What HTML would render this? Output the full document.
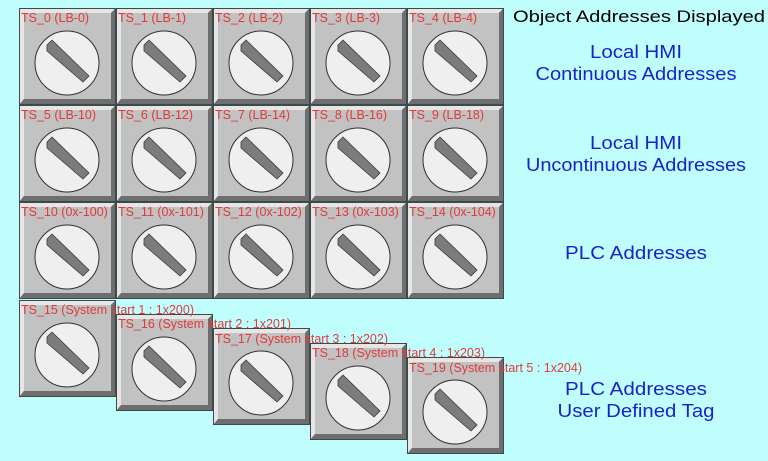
<!DOCTYPE html>
<html><head><meta charset="utf-8"><style>
html,body{margin:0;padding:0;background:#c0fefe;}
svg{display:block}
.l{font-family:"Liberation Sans",sans-serif;font-size:12.5px;fill:#e03a3a}
.b{font-family:"Liberation Sans",sans-serif;font-size:18px;fill:#1a22c8;text-anchor:middle}
</style></head><body>
<svg width="768" height="461" viewBox="0 0 768 461" xmlns="http://www.w3.org/2000/svg">
<rect width="768" height="461" fill="#c0fefe"/>
<defs>
<g id="t">
<rect x="0" y="0" width="97" height="97" fill="#3c4a4a"/>
<polygon points="1,1 96,1 92,5 5,5 5,91 1,96" fill="#e6e6e6"/>
<polygon points="96,1 96,96 1,96 5,91 92,91 92,5" fill="#6e6e6e"/>
<rect x="5" y="5" width="87" height="86" fill="#c2c2c2"/>
<circle cx="48" cy="55" r="32" fill="#efefef" stroke="#303030" stroke-width="1"/>
<polygon points="28,37 33,32 70,68 64,74 28,43" fill="#7c7c7c" stroke="#3a3a3a" stroke-width="0.8"/>
</g>
</defs>
<use href="#t" x="19" y="8"/><use href="#t" x="116" y="8"/><use href="#t" x="213" y="8"/><use href="#t" x="310" y="8"/><use href="#t" x="407" y="8"/>
<use href="#t" x="19" y="105"/><use href="#t" x="116" y="105"/><use href="#t" x="213" y="105"/><use href="#t" x="310" y="105"/><use href="#t" x="407" y="105"/>
<use href="#t" x="19" y="202"/><use href="#t" x="116" y="202"/><use href="#t" x="213" y="202"/><use href="#t" x="310" y="202"/><use href="#t" x="407" y="202"/>
<use href="#t" x="19" y="300"/><use href="#t" x="116" y="314"/><use href="#t" x="213" y="328"/><use href="#t" x="310" y="343"/><use href="#t" x="407" y="357"/>
<text class="l" x="21" y="22">TS_0 (LB-0)</text><text class="l" x="118" y="22">TS_1 (LB-1)</text><text class="l" x="215" y="22">TS_2 (LB-2)</text><text class="l" x="312" y="22">TS_3 (LB-3)</text><text class="l" x="409" y="22">TS_4 (LB-4)</text>
<text class="l" x="21" y="119">TS_5 (LB-10)</text><text class="l" x="118" y="119">TS_6 (LB-12)</text><text class="l" x="215" y="119">TS_7 (LB-14)</text><text class="l" x="312" y="119">TS_8 (LB-16)</text><text class="l" x="409" y="119">TS_9 (LB-18)</text>
<text class="l" x="21" y="216">TS_10 (0x-100)</text><text class="l" x="118" y="216">TS_11 (0x-101)</text><text class="l" x="215" y="216">TS_12 (0x-102)</text><text class="l" x="312" y="216">TS_13 (0x-103)</text><text class="l" x="409" y="216">TS_14 (0x-104)</text>
<text class="l" x="21" y="314">TS_15 (System start 1 : 1x200)</text>
<text class="l" x="118" y="328">TS_16 (System start 2 : 1x201)</text>
<text class="l" x="215" y="343">TS_17 (System start 3 : 1x202)</text>
<text class="l" x="312" y="357">TS_18 (System start 4 : 1x203)</text>
<text class="l" x="409" y="372">TS_19 (System start 5 : 1x204)</text>
<text x="513" y="22" font-family="Liberation Sans, sans-serif" font-size="17" fill="#000" textLength="252" lengthAdjust="spacingAndGlyphs">Object Addresses Displayed</text>
<text class="b" x="636" y="58" textLength="92" lengthAdjust="spacingAndGlyphs">Local HMI</text>
<text class="b" x="636" y="80" textLength="201" lengthAdjust="spacingAndGlyphs">Continuous Addresses</text>
<text class="b" x="636" y="149" textLength="92" lengthAdjust="spacingAndGlyphs">Local HMI</text>
<text class="b" x="636" y="171" textLength="220" lengthAdjust="spacingAndGlyphs">Uncontinuous Addresses</text>
<text class="b" x="636" y="259" textLength="142" lengthAdjust="spacingAndGlyphs">PLC Addresses</text>
<text class="b" x="636" y="395" textLength="142" lengthAdjust="spacingAndGlyphs">PLC Addresses</text>
<text class="b" x="636" y="417" textLength="157" lengthAdjust="spacingAndGlyphs">User Defined Tag</text>
</svg>
</body></html>
